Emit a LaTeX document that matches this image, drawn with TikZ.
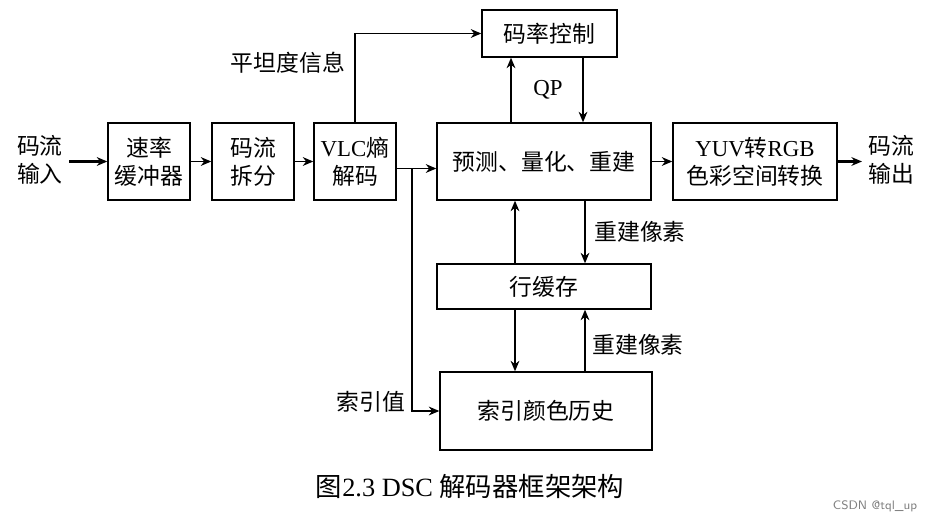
\documentclass[tikz,border=0pt]{standalone}
\usepackage{fontspec}
\setmainfont{Liberation Serif}
\newfontfamily\cjk{Noto Sans CJK SC}
\usetikzlibrary{arrows.meta,calc}
\tikzset{
  blk/.style={draw, thick, align=center, inner sep=0pt, font=\cjk\fontsize{13}{16}\selectfont},
  lbl/.style={align=center, font=\cjk\fontsize{13}{16}\selectfont},
  conn/.style={thick, -{Stealth[length=6pt,width=5pt]}},
}
\begin{document}
\begin{tikzpicture}[x=0.02cm,y=-0.02cm]
    \useasboundingbox (0,0) rectangle (928,520);
    % Blocks
    \node[blk, minimum width=82\pgflinewidth*0+1.64cm, minimum height=1.54cm] (buf) at (149,161.5) {速率\\缓冲器};
    \node[blk, minimum width=1.64cm, minimum height=1.54cm] (split) at (253,161.5) {码流\\拆分};
    \node[blk, minimum width=1.64cm, minimum height=1.54cm] (vlc) at (355,161.5) {{\fontspec{Liberation Serif}VLC}熵\\解码};
    \node[blk, minimum width=4.28cm, minimum height=1.54cm] (pred) at (544,161.5) {预测、量化、重建};
    \node[blk, minimum width=3.28cm, minimum height=1.54cm] (yuv) at (755,161.5) {{\fontspec{Liberation Serif}YUV}转{\fontspec{Liberation Serif}RGB}\\色彩空间转换};
    \node[blk, minimum width=2.7cm, minimum height=0.94cm] (ctrl) at (549.5,33.5) {码率控制};
    \node[blk, minimum width=4.28cm, minimum height=0.9cm] (line) at (544,286.5) {行缓存};
    \node[blk, minimum width=4.24cm, minimum height=1.56cm] (hist) at (546,411) {索引颜色历史};
    % Labels
    \node[lbl] (in) at (40,160) {码流\\输入};
    \node[lbl] (out) at (891,160) {码流\\输出};
    \node[lbl] (flat) at (288,63) {平坦度信息};
    \node[font=\fontsize{13}{16}\selectfont] (qp) at (548,90) {QP};
    \node[lbl] (idx) at (371,402) {索引值};
    \node[lbl] (rec1) at (640,232) {重建像素};
    \node[lbl] (rec2) at (638,345) {重建像素};
    \node[font=\cjk\fontsize{15}{18}\selectfont] (cap) at (470,486) {图{\fontspec{Liberation Serif}2.3 DSC }解码器框架架构};
    \node[font=\fontsize{7}{8}\selectfont\sffamily, text=gray] (wm) at (875,506) {CSDN @tql\_up};
    % Connectors
    \draw[conn, very thick] (in.east |- buf.west) -- (buf.west);
    \draw[conn] (buf) -- (split);
    \draw[conn] (split) -- (vlc);
    \draw[conn] ($(vlc.east)+(0,7)$) coordinate (vo) -- (vo -| pred.west);
    \draw[conn] (pred) -- (yuv);
    \draw[conn, very thick] (yuv.east) -- (out.west |- yuv.east);
    \draw[conn] (vlc.north) |- (ctrl.west);
    \draw[conn] (pred.north -| 511,0) -- (ctrl.south -| 511,0);
    \draw[conn] (ctrl.south -| 583,0) -- (pred.north -| 583,0);
    \coordinate (br) at (412,168);
    \draw[conn] (br) |- (hist.west);
    \draw[conn] (line.north -| 515,0) -- (pred.south -| 515,0);
    \draw[conn] (pred.south -| 585,0) -- (line.north -| 585,0);
    \draw[conn] (line.south -| 515,0) -- (hist.north -| 515,0);
    \draw[conn] (hist.north -| 585,0) -- (line.south -| 585,0);
\end{tikzpicture}
\end{document}
